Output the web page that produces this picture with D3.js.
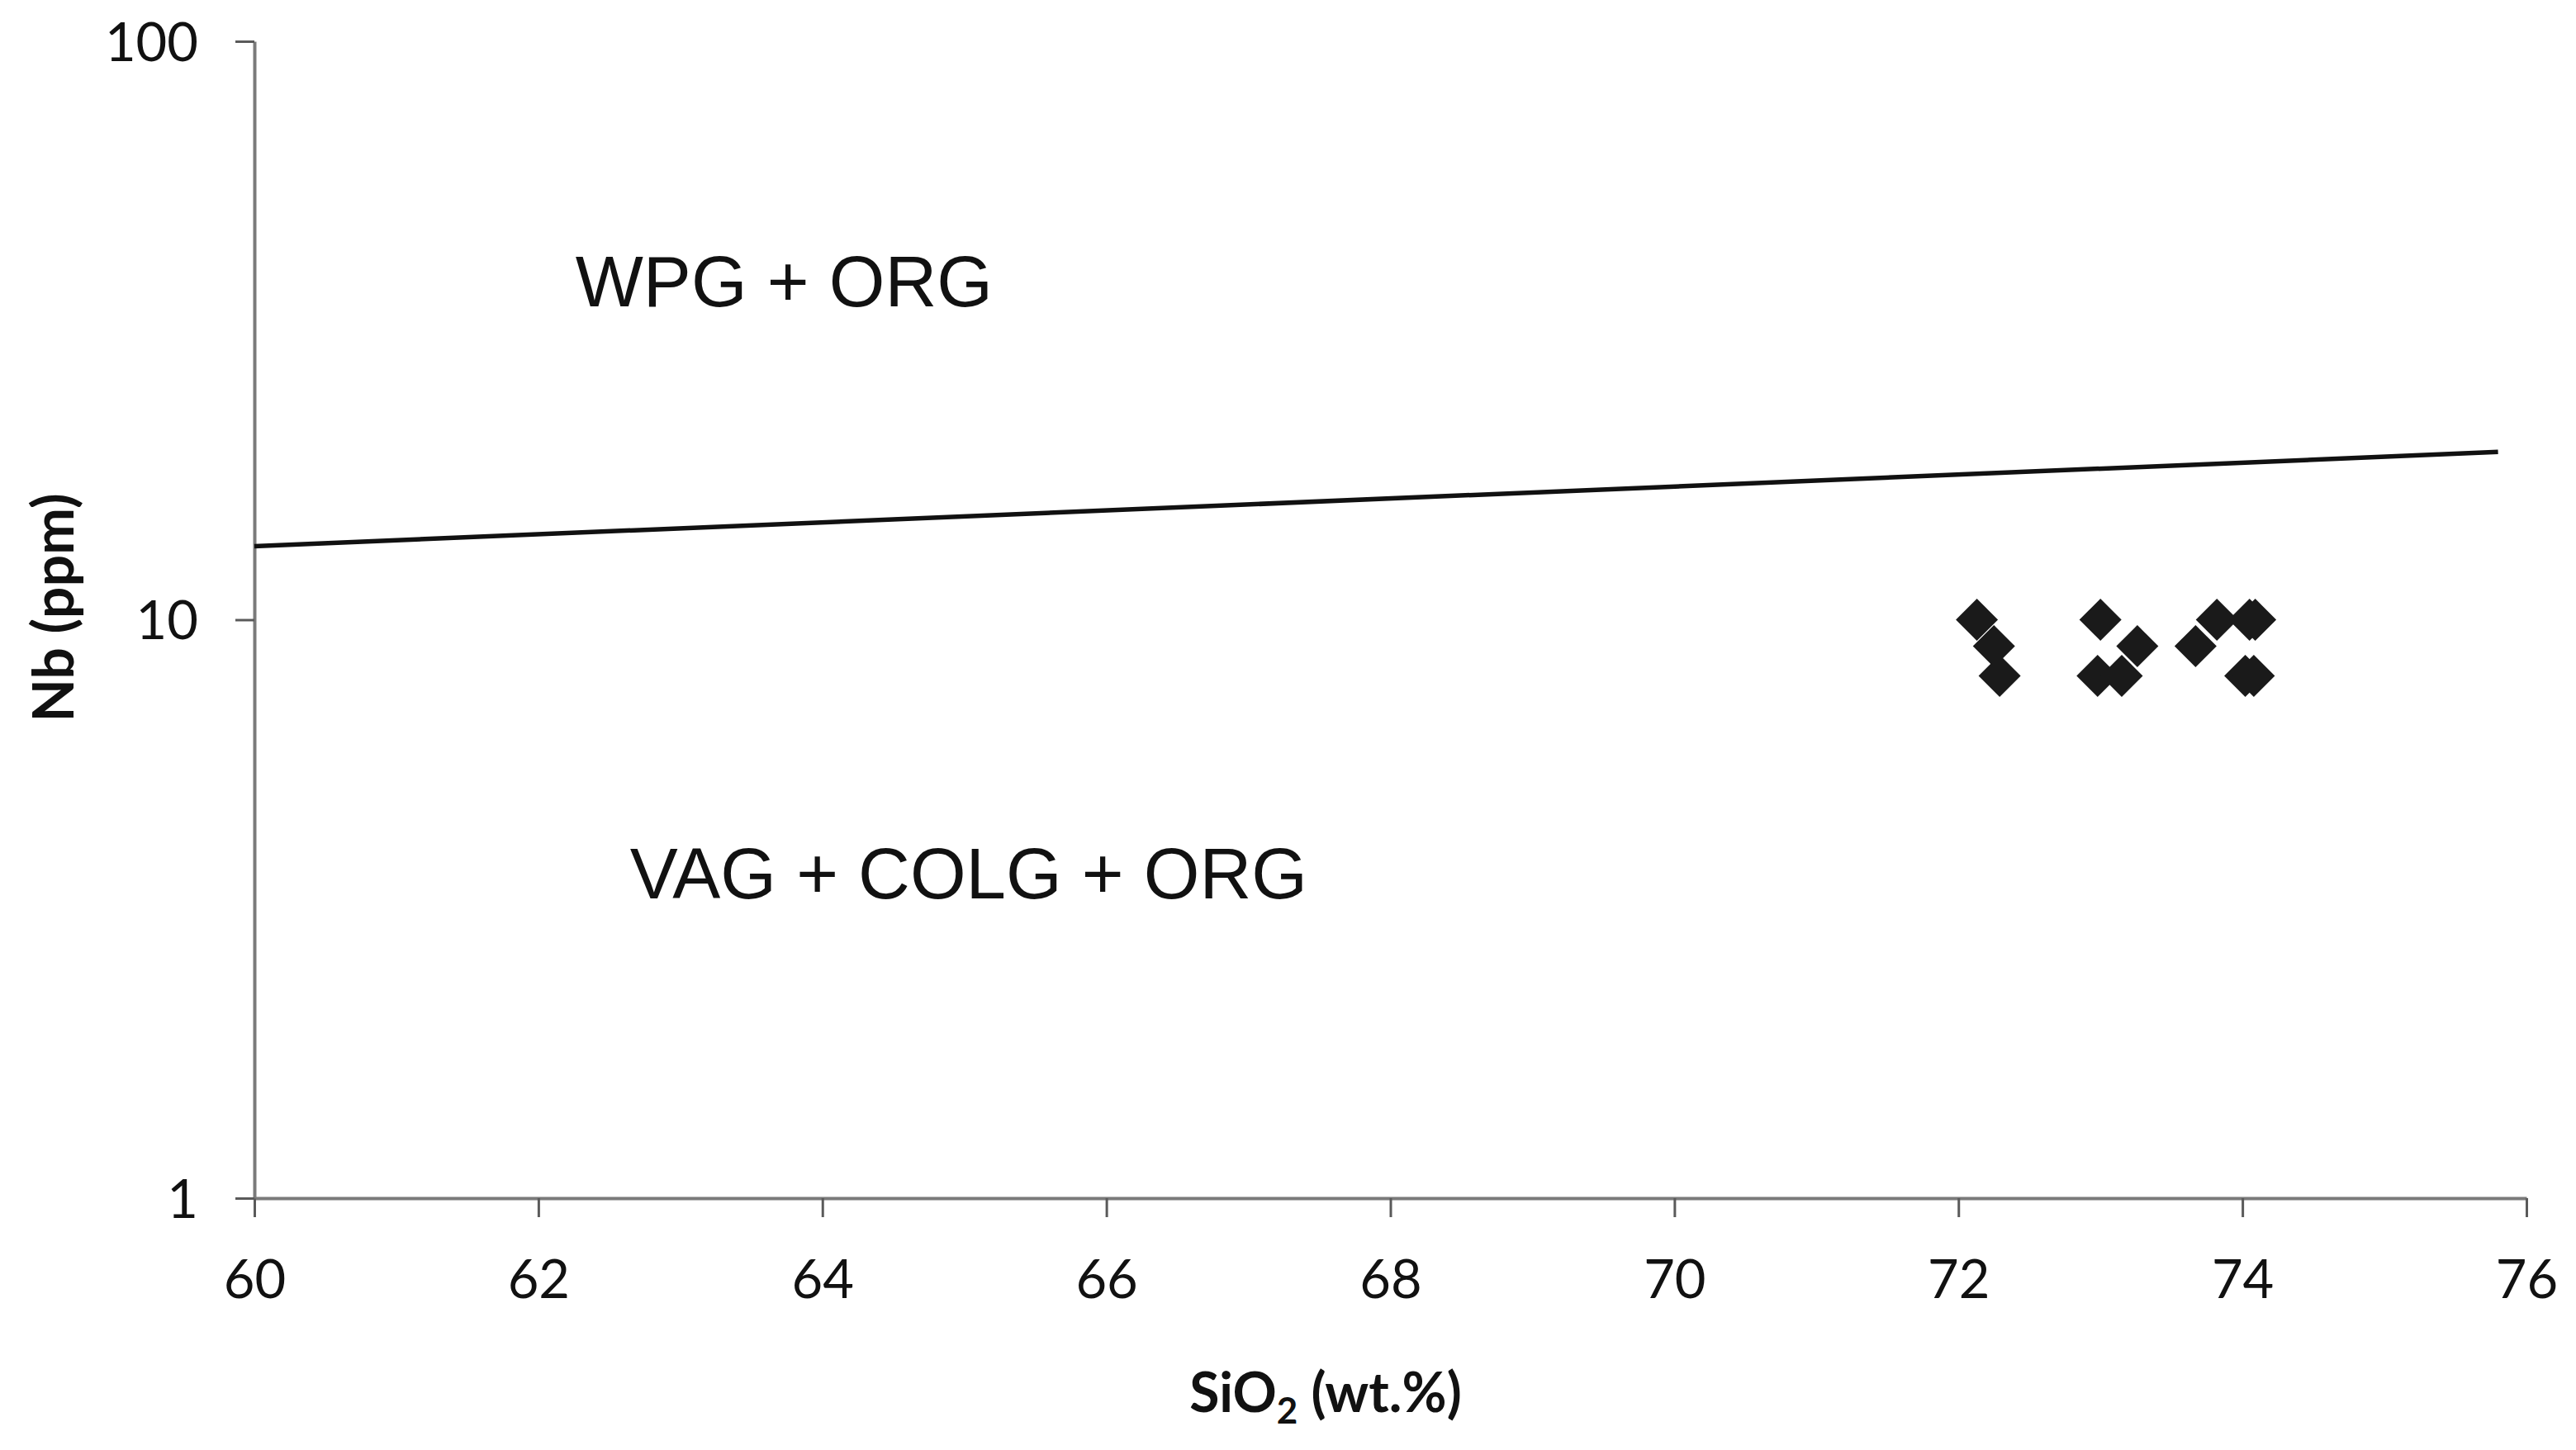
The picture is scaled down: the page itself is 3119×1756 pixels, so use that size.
<!DOCTYPE html>
<html>
<head>
<meta charset="utf-8">
<script src="https://cdn.jsdelivr.net/npm/d3@7"></script>
<style>
  html, body { margin: 0; padding: 0; background: #fff; }
  svg { display: block; }
</style>
</head>
<body>
<svg id="chart" width="3119" height="1756"></svg>
<script>
// ---- data ----
const sampleSiO2 = [72.13, 72.25, 72.29, 73.0, 73.26, 72.98, 73.15, 73.82, 73.67, 74.05, 74.09, 74.02, 74.08];
const sampleNb   = [10,    9,     8,     10,   9,     8,     8,     10,    9,     10,    10,    8,     8];
const boundarySiO2 = [60, 75.8];
const boundaryNb   = [13.4, 19.5];
const xTicks = [60, 62, 64, 66, 68, 70, 72, 74, 76];
const yTicks = [1, 10, 100];
const regionLabels = ["WPG + ORG", "VAG + COLG + ORG"];
const regionSiO2 = [63.73, 65.03];
const regionNb = [38.5, 3.65];
const xTitle = "SiO";
const yTitle = "Nb (ppm)";

// ---- layout ----
const svg = d3.select("#chart");
const mLeft = 308, mRight = 3059, mTop = 50, mBottom = 1451;

const x = d3.scaleLinear().domain([60, 76]).range([mLeft, mRight]);
const y = d3.scaleLog().domain([1, 100]).range([mBottom, mTop]);

const labelFont = "Lato, 'Open Sans', sans-serif";

// x axis
const gx = svg.append("g")
  .attr("transform", `translate(0,${mBottom})`)
  .call(d3.axisBottom(x).tickValues(xTicks).tickSize(23).tickSizeOuter(0).tickFormat(d3.format("d")));
gx.select(".domain").attr("stroke", "#7a7a7a").attr("stroke-width", 4);
gx.selectAll(".tick line").attr("stroke", "#5a5a5a").attr("stroke-width", 3);
gx.selectAll(".tick text")
  .attr("y", 121).attr("dy", 0)
  .attr("font-family", labelFont).attr("font-size", 65).attr("fill", "#111");

// y axis
const gy = svg.append("g")
  .attr("transform", `translate(${mLeft},0)`)
  .call(d3.axisLeft(y).tickValues(yTicks).tickSize(23).tickSizeOuter(0).tickFormat(d3.format("d")));
gy.select(".domain").attr("stroke", "#7a7a7a").attr("stroke-width", 4);
gy.selectAll(".tick line").attr("stroke", "#5a5a5a").attr("stroke-width", 3);
gy.selectAll(".tick text")
  .attr("x", -68).attr("dy", "0.36em")
  .attr("font-family", labelFont).attr("font-size", 65).attr("fill", "#111");

// boundary line
const boundary = boundarySiO2.map((v, i) => [v, boundaryNb[i]]);
svg.append("path")
  .datum(boundary)
  .attr("fill", "none")
  .attr("stroke", "#111")
  .attr("stroke-width", 5.5)
  .attr("d", d3.line().x(d => x(d[0])).y(d => y(d[1])));

// region labels
svg.selectAll("text.region")
  .data(regionLabels)
  .join("text")
  .attr("class", "region")
  .attr("x", (d, i) => x(regionSiO2[i]))
  .attr("y", (d, i) => y(regionNb[i]))
  .attr("dy", "0.35em")
  .attr("text-anchor", "middle")
  .attr("font-family", "'Liberation Sans', Arial, sans-serif")
  .attr("font-size", 87)
  .attr("fill", "#111")
  .text(d => d);

// sample points (diamonds)
const samples = sampleSiO2.map((v, i) => [v, sampleNb[i]]);
const diamond = d3.symbol().type(d3.symbolSquare).size(1300);
svg.append("g")
  .selectAll("path")
  .data(samples)
  .join("path")
  .attr("transform", d => `translate(${x(d[0])},${y(d[1])}) rotate(45)`)
  .attr("d", diamond)
  .attr("fill", "#1a1a1a");

// axis titles
const xt = svg.append("text")
  .attr("x", 1605)
  .attr("y", 1710)
  .attr("text-anchor", "middle")
  .attr("font-family", labelFont)
  .attr("font-weight", "bold")
  .attr("font-size", 66)
  .attr("fill", "#111");
xt.append("tspan").text(xTitle);
xt.append("tspan").attr("font-size", 44).attr("dy", 14).text("2");
xt.append("tspan").attr("dy", -14).text(" (wt.%)");

svg.append("text")
  .attr("transform", `translate(65,736) rotate(-90)`)
  .attr("text-anchor", "middle")
  .attr("dy", "0.36em")
  .attr("font-family", labelFont)
  .attr("font-weight", "bold")
  .attr("font-size", 68)
  .attr("fill", "#111")
  .text(yTitle);
</script>
</body>
</html>
